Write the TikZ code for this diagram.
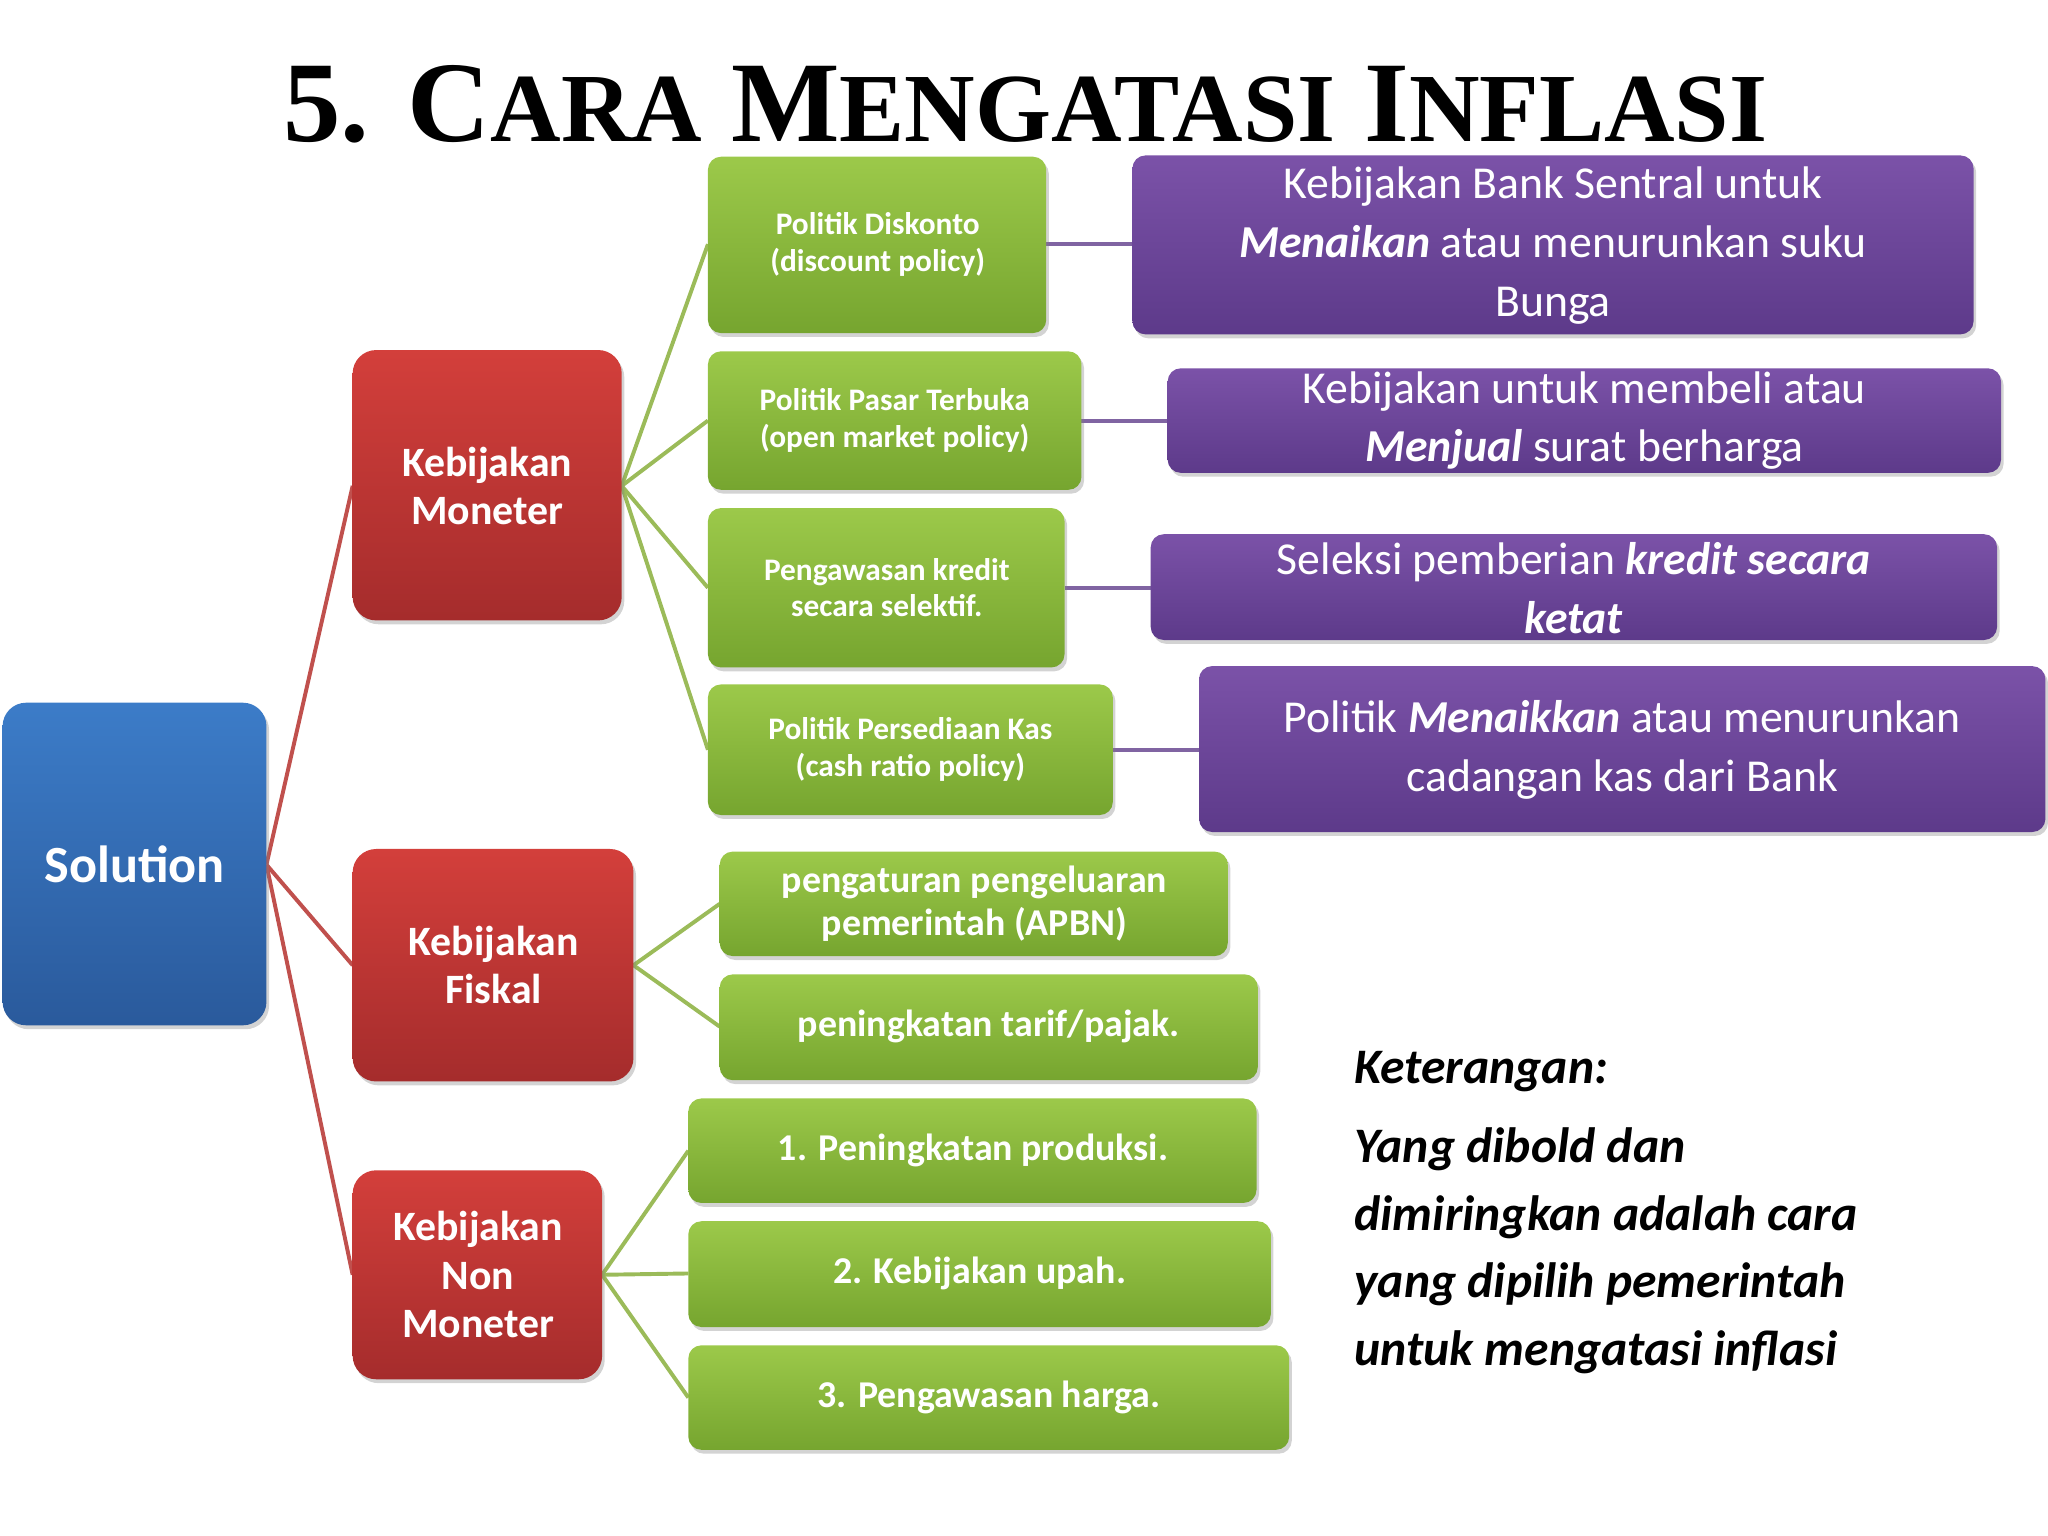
\documentclass[tikz,border=0pt]{standalone}
\usepackage{fontspec}
\setmainfont{Carlito}
\newfontfamily\titlefont{Liberation Serif}
\usetikzlibrary{shadows}
\definecolor{bluet}{HTML}{3C7CC8}\definecolor{blueb}{HTML}{2A5A9C}
\definecolor{redt}{HTML}{D33F3B}\definecolor{redb}{HTML}{A52C2C}
\definecolor{grt}{HTML}{9CC94A}\definecolor{grb}{HTML}{76A52F}
\definecolor{pt}{HTML}{7B52A8}\definecolor{pb}{HTML}{5D3A8A}
\definecolor{redl}{HTML}{C0504D}\definecolor{grl}{HTML}{9BBB59}\definecolor{pl}{HTML}{8064A2}
\tikzset{
 bx/.style={rounded corners=9pt,draw=none,drop shadow={opacity=0.35,shadow xshift=1pt,shadow yshift=-1.5pt},text=white,align=center,inner sep=0pt},
 bluebox/.style={bx,top color=bluet,bottom color=blueb},
 redbox/.style={bx,top color=redt,bottom color=redb},
 grbox/.style={bx,rounded corners=5pt,top color=grt,bottom color=grb},
 pbox/.style={bx,rounded corners=5pt,top color=pt,bottom color=pb},
 rl/.style={redl,line width=1.5pt},
 gl/.style={grl,line width=1.5pt},
 pln/.style={pl,line width=1.5pt}
}
\newcommand{\bbox}[6]{\path[#1] (#2,#3) rectangle (#4,#5); \node[text=white,align=center] (#6) at ({(#2+#4)/2},{(#3+#5)/2}) {};}
\begin{document}
\begin{tikzpicture}[x=0.5pt,y=-0.5pt]
\useasboundingbox (0,0) rectangle (1568,1176);
% boxes
\newcommand{\mk}[7]{\path[#1] (#2,#3) rectangle (#4,#5);
 \node[text=white,align=center,font=#7] (#6) at ({(#2+#4)/2},{(#3+#5)/2}) {};
 \coordinate (#6w) at (#2,{(#3+#5)/2}); \coordinate (#6e) at (#4,{(#3+#5)/2});}
% connectors first
\coordinate (sol e) at (204,662);
\draw[rl] (204,662) -- (270,372);
\draw[rl] (204,662) -- (270,739);
\draw[rl] (204,662) -- (270,976);
\foreach \y in {187,322,450,574} \draw[gl] (476,372) -- (542,\y);
\foreach \y in {692,786} \draw[gl] (485,739) -- (551,\y);
\foreach \y in {881,975,1070} \draw[gl] (461,976) -- (527,\y);
\draw[pln] (801,187) -- (867,187);
\draw[pln] (828,322) -- (894,322);
\draw[pln] (815,450) -- (881,450);
\draw[pln] (852,574) -- (918,574);
% title
\node[font=\titlefont\bfseries\fontsize{44}{48}\selectfont] (title) at (785,80) {5. C\scalebox{0.85}{ARA} M\scalebox{0.85}{ENGATASI} I\scalebox{0.85}{NFLASI}};
% solution
\path[bluebox] (2,538) rectangle (204,785);
\node[text=white,font=\bfseries\fontsize{20}{22}\selectfont] (sol) at (103,662) {Solution};
\path[redbox] (270,268) rectangle (476,475);
\node[text=white,align=center,font=\bfseries\fontsize{16}{18.5}\selectfont] (mon) at (373,372) {Kebijakan\\Moneter};
\path[redbox] (270,650) rectangle (485,828);
\node[text=white,align=center,font=\bfseries\fontsize{16}{18.5}\selectfont] (fis) at (378,739) {Kebijakan\\Fiskal};
\path[redbox] (270,896) rectangle (461,1056);
\node[text=white,align=center,font=\bfseries\fontsize{16}{18.5}\selectfont] (non) at (366,976) {Kebijakan\\Non\\Moneter};
% green
\tikzset{gt/.style={text=white,align=center,font=\bfseries\fontsize{12}{14}\selectfont},
 gt2/.style={text=white,align=center,font=\bfseries\fontsize{14.5}{16.5}\selectfont}}
\path[grbox] (542,120) rectangle (801,255); \node[gt] (g1) at (672,187) {Politik Diskonto\\(discount policy)};
\path[grbox] (542,269) rectangle (828,375); \node[gt] (g2) at (685,322) {Politik Pasar Terbuka\\(open market policy)};
\path[grbox] (542,389) rectangle (815,511); \node[gt] (g3) at (679,450) {Pengawasan kredit\\secara selektif.};
\path[grbox] (542,524) rectangle (852,624); \node[gt] (g4) at (697,574) {Politik Persediaan Kas\\(cash ratio policy)};
\path[grbox] (551,652) rectangle (940,732); \node[gt2] (g5) at (746,692) {pengaturan pengeluaran\\pemerintah (APBN)};
\path[grbox] (551,746) rectangle (963,827); \node[gt2] (g6) at (757,786) {peningkatan tarif/pajak.};
\path[grbox] (527,841) rectangle (962,921); \node[gt2] (g7) at (745,881) {1. Peningkatan produksi.};
\path[grbox] (527,935) rectangle (973,1016); \node[gt2] (g8) at (750,975) {2. Kebijakan upah.};
\path[grbox] (527,1030) rectangle (987,1110); \node[gt2] (g9) at (757,1070) {3. Pengawasan harga.};
% purple
\tikzset{ptx/.style={text=white,align=center,font=\fontsize{17.5}{22.5}\selectfont}}
\path[pbox] (867,119) rectangle (1511,256); \node[ptx] (p1) at (1189,188) {Kebijakan Bank Sentral untuk\\\textbf{\textit{Menaikan}} atau menurunkan suku\\Bunga};
\path[pbox] (894,282) rectangle (1532,362); \node[ptx] (p2) at (1213,322) {Kebijakan untuk membeli atau\\\textbf{\textit{Menjual}} surat berharga};
\path[pbox] (881,409) rectangle (1529,490); \node[ptx] (p3) at (1205,450) {Seleksi pemberian \textbf{\textit{kredit secara}}\\\textbf{\textit{ketat}}};
\path[pbox] (918,510) rectangle (1566,637); \node[ptx] (p4) at (1242,574) {Politik \textbf{\textit{Menaikkan}} atau menurunkan\\cadangan kas dari Bank};
% note
\node[anchor=north west,align=left,font=\bfseries\itshape\fontsize{19}{26}\selectfont] (ket) at (1030,798) {Keterangan:};
\node[anchor=north west,align=left,font=\bfseries\itshape\fontsize{19}{26}\selectfont] (note) at (1030,856) {Yang dibold dan\\dimiringkan adalah cara\\yang dipilih pemerintah\\untuk mengatasi inflasi};
\end{tikzpicture}
\end{document}
